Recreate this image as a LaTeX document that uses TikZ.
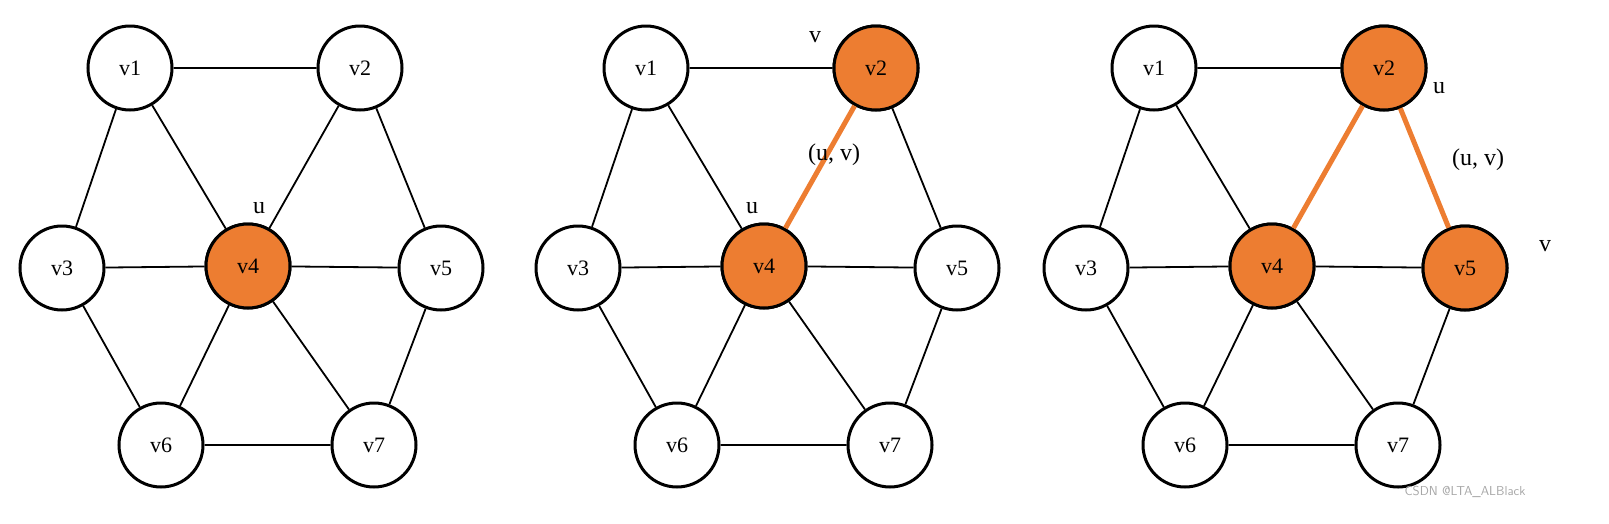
\documentclass[tikz,border=0pt]{standalone}
\usepackage{fontspec}
\setmainfont{Liberation Serif}
\definecolor{og}{HTML}{ED7D31}
\begin{document}
\begin{tikzpicture}[x=1pt,y=-1pt,
  v/.style={circle,draw,line width=3pt,fill=white,minimum size=84pt,inner sep=0pt,font=\fontsize{22}{24}\selectfont},
  o/.style={v,fill=og},
  e/.style={line width=1.8pt},
  oe/.style={line width=5pt,draw=og},
  lab/.style={font=\fontsize{24}{26}\selectfont}]
\useasboundingbox (0,0) rectangle (1609,523);
\foreach \p/\dx in {a/0,b/516,c/1024}{
\begin{scope}[xshift=\dx pt]
\node[v] (\p1) at (130,68) {v1};
\node[v] (\p2) at (360,68) {v2};
\node[v] (\p3) at (62,268) {v3};
\node[v] (\p4) at (248,266) {v4};
\node[v] (\p5) at (441,268) {v5};
\node[v] (\p6) at (161,445) {v6};
\node[v] (\p7) at (374,445) {v7};
\end{scope}}
% recolor
\node[o] at (a4) {v4};
\node[o] at (b4) {v4};
\node[o] at (b2) {v2};
\node[o] at (c4) {v4};
\node[o] at (c2) {v2};
\node[o] at (c5) {v5};
\begin{scope}[on background layer/.style={}]
\end{scope}
\foreach \p in {a,b,c}{
\draw[e] (\p1)--(\p2) (\p1)--(\p3) (\p1)--(\p4) (\p3)--(\p4) (\p4)--(\p5)
 (\p2)--(\p5) (\p3)--(\p6) (\p4)--(\p6) (\p4)--(\p7) (\p5)--(\p7) (\p6)--(\p7);
}
\draw[e] (a2)--(a4) (c1)--(c2);
\draw[oe] (b2)--(b4);
\draw[oe] (c2)--(c4);
\draw[oe] (c2)--(c5);
\node[lab] (l1) at (259,208) {u};
\node[lab] (l2) at (815,37) {v};
\node[lab] (l3) at (834,155) {(u, v)};
\node[lab] (l4) at (752,208) {u};
\node[lab] (l5) at (1439,88) {u};
\node[lab] (l6) at (1478,160) {(u, v)};
\node[lab] (l7) at (1545,246) {v};
\node[text=gray!70,font=\sffamily\fontsize{13}{14}\selectfont] (wm) at (1465,492) {CSDN @LTA\_ALBlack};
\end{tikzpicture}
\end{document}
